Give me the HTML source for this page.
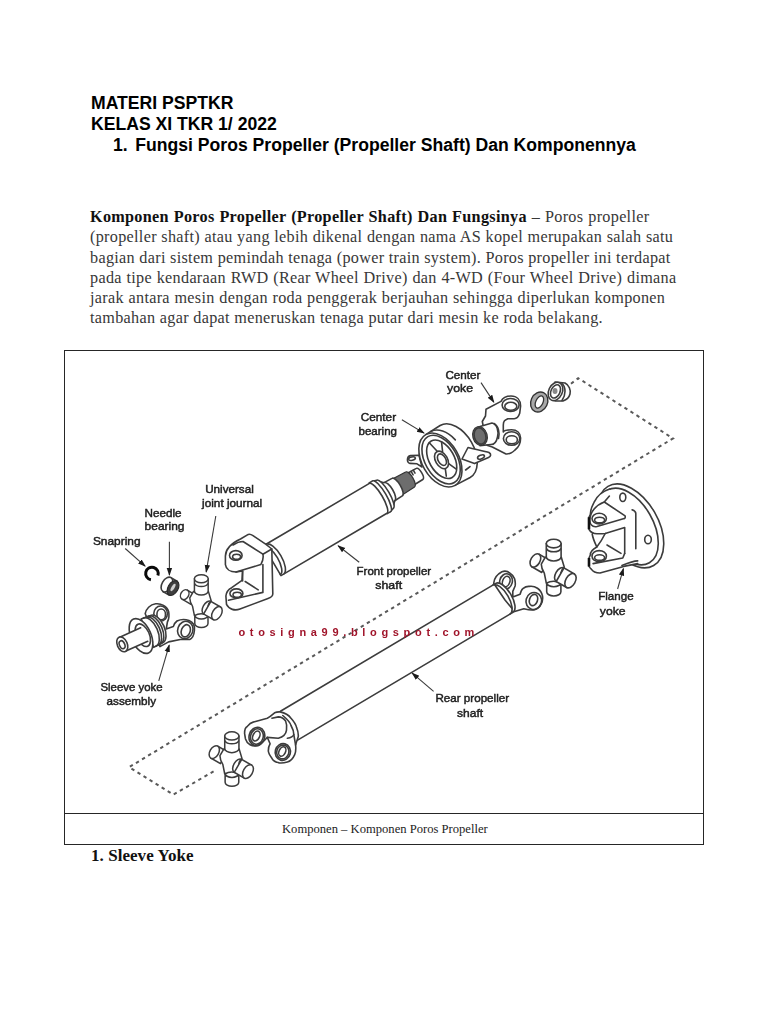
<!DOCTYPE html>
<html><head><meta charset="utf-8">
<style>
html,body{margin:0;padding:0;background:#fff;}
body{width:768px;height:1024px;position:relative;overflow:hidden;}
.h{position:absolute;font-family:"Liberation Sans",sans-serif;font-weight:bold;font-size:17.6px;color:#000;white-space:nowrap;line-height:20px;}
.p{position:absolute;left:90px;font-family:"Liberation Serif",serif;font-size:16.2px;letter-spacing:0.3px;color:#383838;white-space:nowrap;line-height:20px;}
.p b{color:#111;}
#box{position:absolute;left:64px;top:350px;width:640px;height:495px;border:1px solid #262626;box-sizing:border-box;}
#div{position:absolute;left:64px;top:813px;width:640px;height:1px;background:#262626;}
.cap{position:absolute;font-family:"Liberation Serif",serif;font-size:12.6px;color:#222;white-space:nowrap;}
.s{position:absolute;left:91px;font-family:"Liberation Serif",serif;font-weight:bold;font-size:17px;letter-spacing:0.05px;color:#111;white-space:nowrap;}
svg{position:absolute;left:0;top:0;filter:blur(0.35px);}
</style></head><body>
<div class="h" style="left:91px;top:93px;">MATERI PSPTKR</div>
<div class="h" style="left:91px;top:114px;">KELAS XI TKR 1/ 2022</div>
<div class="h" style="left:113px;top:135px;">1.</div>
<div class="h" style="left:135.3px;top:135px;">Fungsi Poros Propeller (Propeller Shaft) Dan Komponennya</div>

<div class="p" style="top:207.40px;word-spacing:0.55px;"><b>Komponen Poros Propeller (Propeller Shaft) Dan Fungsinya</b> – Poros propeller</div>
<div class="p" style="top:227.46px;word-spacing:0.15px;">(propeller shaft) atau yang lebih dikenal dengan nama AS kopel merupakan salah satu</div>
<div class="p" style="top:247.52px;word-spacing:0.04px;">bagian dari sistem pemindah tenaga (power train system). Poros propeller ini terdapat</div>
<div class="p" style="top:267.58px;word-spacing:0.4px;">pada tipe kendaraan RWD (Rear Wheel Drive) dan 4-WD (Four Wheel Drive) dimana</div>
<div class="p" style="top:287.64px;word-spacing:0.3px;">jarak antara mesin dengan roda penggerak berjauhan sehingga diperlukan komponen</div>
<div class="p" style="top:307.70px;word-spacing:0.1px;">tambahan agar dapat meneruskan tenaga putar dari mesin ke roda belakang.</div>

<svg width="768" height="1024" viewBox="0 0 768 1024">
<defs>
<style>
.l{fill:none;stroke:#3c3c3c;stroke-width:1.6;stroke-linejoin:round;stroke-linecap:round}
.f{fill:#fff;stroke:#3c3c3c;stroke-width:1.6;stroke-linejoin:round;stroke-linecap:round}
.d{fill:#6d6d6d;stroke:#333;stroke-width:1.2}
.t{font-family:"Liberation Sans",sans-serif;font-size:10.8px;fill:#1e1e1e;stroke:#1e1e1e;stroke-width:0.45}
.a{fill:#222;stroke:none}
</style>
<g id="uj">
 <!-- left cap -->
 <g transform="rotate(30)">
  <path class="f" d="M-19.5,-7.2 L-8,-7.2 L-8,7.2 L-19.5,7.2 Z"/>
  <ellipse class="f" cx="-19.5" cy="0" rx="4.6" ry="7.2"/>
 </g>
 <!-- hub -->
 <path class="f" d="M-7,-13 Q1,-8 9,-13 L12,-3 Q6,2 11,9 L9,13 Q1,9 -6,13 L-8,3 Q-11,-2 -11,-6 Z"/>
 <!-- top cap -->
 <path class="f" d="M-6,-26.6 L-6,-13.5 A7.4,4.3 0 0 0 8.8,-13.5 L8.8,-26.6 Z"/>
 <ellipse class="f" cx="1.4" cy="-26.6" rx="7.4" ry="4.3"/>
 <path class="l" d="M-5.6,-21.3 A7.2,3.8 0 0 0 8.4,-21.3"/>
 <!-- bottom cap -->
 <path class="f" d="M-5.6,12.5 A7,4 0 0 0 8.6,12.5 L8.6,21.5 A7.1,4.3 0 0 1 -5.6,21.5 Z"/>
 <!-- right cap -->
 <g transform="rotate(30)">
  <path class="f" d="M9,-7.8 L21,-7.8 L21,7.8 L9,7.8 Z"/>
  <path class="l" d="M9,-7.8 A4.6,7.8 0 0 0 9,7.8"/>
  <ellipse class="f" cx="21" cy="0" rx="4.8" ry="7.8"/>
 </g>
</g>
<g id="uj1">
 <!-- left cap -->
 <g transform="rotate(30)">
  <path class="f" d="M-19,-5.6 L-8,-5.6 L-8,5.6 L-19,5.6 Z"/>
  <ellipse class="f" cx="-19" cy="0" rx="4.2" ry="5.6"/>
 </g>
 <!-- hub -->
 <path class="f" d="M-7,-13 Q1,-8 9,-13 L12,-3 Q6,2 11,9 L9,13 Q1,9 -6,13 L-8,3 Q-11,-2 -11,-6 Z"/>
 <!-- top cap -->
 <path class="f" d="M-6,-26.6 L-6,-13.5 A7.4,4.3 0 0 0 8.8,-13.5 L8.8,-26.6 Z"/>
 <ellipse class="f" cx="1.4" cy="-26.6" rx="7.4" ry="4.3"/>
 <path class="l" d="M-5.6,-21.3 A7.2,3.8 0 0 0 8.4,-21.3"/>
 <!-- bottom cap -->
 <path class="f" d="M-5.6,12.5 A7,4 0 0 0 8.6,12.5 L8.6,21.5 A7.1,4.3 0 0 1 -5.6,21.5 Z"/>
 <!-- right cap -->
 <g transform="rotate(30)">
  <path class="f" d="M9,-7.8 L21,-7.8 L21,7.8 L9,7.8 Z"/>
  <path class="l" d="M9,-7.8 A4.6,7.8 0 0 0 9,7.8"/>
  <ellipse class="f" cx="21" cy="0" rx="4.8" ry="7.8"/>
 </g>
</g>
<marker id="ah" markerWidth="8" markerHeight="8" refX="7" refY="4" orient="auto" markerUnits="userSpaceOnUse"><path d="M0,1.3 L8,4 L0,6.7 Z" fill="#1a1a1a"/></marker>
</defs>

<!-- dashed loop -->
<path d="M571,383.7 L578.2,378.2 L673,438.4 L129.1,767.2 L173.4,794.6 L216,770" fill="none" stroke="#595959" stroke-width="2" stroke-dasharray="3.4 3.7"/>

<!-- ============ FRONT SHAFT ============ -->
<g transform="translate(274.8,559.2) rotate(-30.5)">
 <path class="f" d="M157,-6.7 L168,-6.4 A2.4,6.4 0 0 1 168,6.4 L157,6.7 Z"/>
 <path class="l" d="M159.5,-6.5 L159.5,-2.5 M162,-6.5 L162,-2.5 M164.5,-6.4 L164.5,-3" stroke-width="0.8"/>
 <path class="d" d="M142,-9.4 L157,-8.8 A3.2,8.8 0 0 1 157,8.8 L142,9.4 Z"/>
 <path class="f" d="M133,-10.5 L142,-10.2 A3.6,10.2 0 0 1 142,10.2 L133,10.5 Z"/>
 <path class="f" d="M127.5,-16 L133,-10.5 A3.8,10.5 0 0 1 133,10.5 L127.5,16 Z"/>
 <path class="f" d="M123.8,-17.6 L127.8,-16.4 A4.5,16.4 0 0 1 127.8,16.4 L123.8,17.6 Z"/>
 <path class="f" d="M120,-17.8 L124,-17.8 A4.6,17.8 0 0 1 124,17.8 L120,17.8 Z"/>
 <path fill="#fff" d="M0,-17.3 L120,-17.3 A4.5,17.3 0 0 1 120,17.3 L0,17.3 Z"/>
 <path class="l" d="M0,-17.3 L120,-17.3 A4.5,17.3 0 0 1 120,17.3 L0,17.3"/>
 <path class="f" d="M-3,-17.3 L0,-17.3 A7,17.3 0 0 1 0,17.3 L-3,17.3 Z"/>
 <path class="l" d="M-3,-16 A6,16 0 0 1 -3,16"/>
</g>
<!-- front yoke -->
<path class="f" d="M225.4,556 C225.5,549 232,543 240.5,539 L248.3,534.4 C250,533.8 251.5,534.6 253,535.6 L266,544.3 L271.8,549 L272.8,594 C272.6,596.5 271,597.5 268,598.5 L240,609 C235,611 229,609.5 226.5,604.4 L225.9,596 C226.5,591 229,589 231.7,587.7 L242,580.4 L242.6,571 L236,572 C230,572 226,569 225.4,564.6 Z"/>
<path class="l" d="M233,545 C236,543 240,541.5 243,541.5 L262.9,554.2 L271.8,549"/>
<path class="l" d="M262.9,554.2 C263.5,557 263,561 260.8,564.6 L236,572"/>
<path class="l" d="M262.9,564.6 L262.9,592.4 L228.5,600.2"/>
<path class="l" d="M245.2,581.5 L258.2,589.8"/>
<path class="l" d="M242.6,571 L242.6,581"/>
<ellipse class="f" cx="235.8" cy="555.4" rx="6.3" ry="4.8"/>
<ellipse class="l" cx="236.6" cy="556.8" rx="4" ry="2.6"/>
<ellipse class="f" cx="236.4" cy="593.4" rx="6.5" ry="4.5"/>
<ellipse class="l" cx="237.2" cy="594.8" rx="4.2" ry="2.6"/>

<!-- ============ CENTER BEARING ============ -->
<g transform="translate(440.4,460) rotate(-30)">
 <path class="f" d="M0,-29.3 L17,-30 A18.8,30 0 0 1 17,30 L0,29.3 Z"/>
 <path class="l" d="M6,-29.5 A18.5,29.5 0 0 1 23,-10"/>
</g>
<!-- bracket tabs -->
<path class="f" d="M419,455.2 L410.5,455.6 C406.5,456.5 406.5,462.5 410,463.4 L417,463.8 L422,467 Z"/>
<ellipse class="l" cx="412" cy="458.6" rx="3.4" ry="1.7" transform="rotate(-12 412 458.6)"/>
<path class="f" d="M468,447.5 C476,449.5 485,451 489,452.5 C491.5,454 491,456.5 488.5,457.5 L474.5,463.6 L462,459 Z"/>
<ellipse class="l" cx="481" cy="457" rx="3.6" ry="1.8" transform="rotate(-22 481 457)"/>
<path class="l" d="M470,466.6 L465.6,470"/>
<g transform="translate(440.4,460) rotate(-30)">
 <ellipse class="f" cx="0" cy="0" rx="18.3" ry="29.3"/>
 <ellipse class="l" cx="0.8" cy="0" rx="16" ry="26.5"/>
 <ellipse class="l" cx="1.5" cy="0" rx="12.5" ry="21"/>
 <path class="l" d="M-1,-20.5 L1.5,-9.5 M-3,17 L0.5,8.5 M10,-15 L6,-6 M9,15.5 L5,6.5" stroke-width="1.1"/>
 <ellipse class="f" cx="1" cy="0.5" rx="6" ry="9.5"/>
 <ellipse class="l" cx="1.5" cy="0.5" rx="3.8" ry="6.3"/>
</g>

<!-- ============ CENTER YOKE ============ -->
<path class="f" d="M501,401.4 C503,397 507,396 511,396 C517,396 520.6,400 520.6,406 L519.7,413.3 C518.5,417 516,418.7 514.2,418.7 L507.8,418.7 C505,420 503.3,421 503.3,425 L503.3,432 C504,430 507,429.7 511.5,429.7 C517,429.7 520.6,433 520.6,438 C520.6,443 519,447 515,450 C512,453 509,454.3 506,454 L492.3,447 L487,445.2 L482.3,421.5 L485.5,416 L486,409.2 Z"/>
<ellipse class="f" cx="510.6" cy="405" rx="8.5" ry="6.5"/>
<ellipse class="l" cx="510.8" cy="406.3" rx="6" ry="4"/>
<ellipse class="f" cx="511.6" cy="438.5" rx="8.2" ry="6.8"/>
<ellipse class="l" cx="511.8" cy="439.8" rx="5.6" ry="4"/>
<!-- boss -->
<path class="f" d="M480,426.4 L492,423 C497,424 499,431 497.5,437 C496.5,442 494,444.5 491,444.5 L480,445.6 Z"/>
<path class="l" d="M494,423.5 C498.5,426 500,433 498.5,438.5"/>
<ellipse class="d" cx="480" cy="436" rx="7.2" ry="9.6" transform="rotate(-15 480 436)" fill="#7a7a7a"/>
<ellipse class="l" cx="480" cy="436" rx="5.8" ry="8.2" transform="rotate(-15 480 436)"/>

<!-- washer & nut -->
<ellipse cx="539.2" cy="402" rx="8.3" ry="10.3" transform="rotate(25 539.2 402)" fill="#a8a8a8" stroke="#333" stroke-width="1.4"/>
<ellipse cx="539.4" cy="402" rx="3.6" ry="6.5" transform="rotate(25 539.4 402)" fill="#fff" stroke="#333" stroke-width="1.3"/>
<path class="f" d="M555,382 L565,383 C569,385 571,390 570,394 C569,398 566,400 563,401 L555,401 Z"/>
<ellipse class="f" cx="555.5" cy="391.4" rx="6.8" ry="9.6" transform="rotate(25 555.5 391.4)"/>
<ellipse class="l" cx="555.5" cy="391.4" rx="4.5" ry="7" transform="rotate(25 555.5 391.4)"/>
<ellipse cx="555" cy="391" rx="2.5" ry="3" fill="#888"/>
<path class="l" d="M562,383.5 C566,387 566,395 562,400.5" />

<!-- ============ SLEEVE YOKE ============ -->
<path class="f" d="M145.2,613.75 C146,609 150,604.5 155.7,603.8 C161,603.2 167,606 168.6,611.4 C169.5,616 168.5,620 167.4,622 L166.25,629 L173.3,626.6 C174,624 175,622.5 177,621 C180,619.5 185,619 189,620.5 C193,622 195,626 194.4,630.5 C194,635 192,638.5 189.7,639.5 L180.3,639.5 L168.6,641.9 L160,646.6 Z"/>
<ellipse class="f" cx="160.6" cy="613.6" rx="6.8" ry="7.6"/>
<ellipse class="l" cx="161.2" cy="614.4" rx="4.3" ry="5.4"/>
<ellipse class="f" cx="185.3" cy="630" rx="7.6" ry="8.8" transform="rotate(20 185.3 630)"/>
<ellipse class="l" cx="185.8" cy="630.8" rx="4.4" ry="6.3" transform="rotate(20 185.8 630.8)"/>
<g transform="translate(141,636) rotate(-24)">
 <path class="f" d="M7,-15.5 L17,-15 A8,15 0 0 1 17,15 L7,15.5 Z"/>
 <path class="l" d="M9.5,-15.4 A8,15.3 0 0 1 9.5,15.4 M12,-15.3 A8,15.2 0 0 1 12,15.3 M14.5,-15.2 A8,15.1 0 0 1 14.5,15.2"/>
 <ellipse class="f" cx="0" cy="0" rx="10" ry="18.5"/>
 <ellipse class="l" cx="2" cy="0" rx="6.5" ry="12"/>
 <path fill="#fff" d="M-20.5,-7.6 L4,-7.6 L4,7.6 L-20.5,7.6 Z"/>
 <path class="l" d="M-20.5,-7.6 L3,-7.6 M-20.5,7.6 L4,7.6"/>
 <ellipse class="f" cx="-20.5" cy="0" rx="5" ry="7.8"/>
 <ellipse class="l" cx="-20.8" cy="0.3" rx="2.6" ry="4.2"/>
</g>

<!-- snapring, needle bearing -->
<path d="M157.9,575.6 A6.3,6.3 0 1 0 150.9,579.7" fill="none" stroke="#0a0a0a" stroke-width="3"/>
<g transform="translate(170,586.3) rotate(30)">
 <path class="f" d="M-3.5,-8 L3.5,-8 L3.5,8 L-3.5,8 Z"/>
 <ellipse class="f" cx="-3.5" cy="0" rx="5" ry="8"/>
 <ellipse cx="3.5" cy="0" rx="5" ry="8" fill="#3e3e3e" stroke="#2a2a2a" stroke-width="1.2"/>
 <ellipse cx="3.2" cy="-0.5" rx="1.6" ry="4.2" fill="#cfcfcf"/>
</g>
<!-- UJs -->
<use href="#uj1" transform="translate(200,603.5) scale(0.93)"/>
<use href="#uj" transform="translate(552.3,570.2)"/>
<use href="#uj" transform="translate(230.5,761.5) scale(0.96)"/>

<!-- ============ REAR SHAFT ============ -->
<g transform="translate(291.6,724.2) rotate(-30.7)">
 <path fill="#fff" d="M-3,-16.8 L244,-16.8 L244,16.8 L-3,16.8 Z"/>
 <path class="l" d="M-3,-16.8 L244,-16.8 M-3,16.8 L244,16.8"/>
</g>
<!-- rear right yoke -->
<path class="f" d="M493.7,583.2 C494,580 496,575 501.9,571.8 C505,570.5 508,571.5 510,573.2 C513,575 514.6,578.7 514.6,578.7 C515.5,582 515.5,584 515.1,586 L512.8,591.4 L512.8,596.9 L520.1,594.2 C521,591 521.5,589.5 522.8,588.7 C525,587 527,586.2 529.2,586.4 C535,585.5 541,589 542.5,596 C543.5,602 540,608 534.7,609.7 C530,610.5 527,609.5 523.8,608.75 L514.6,611.5 L505,600 Z"/>
<ellipse class="l" cx="506" cy="581.5" rx="6.3" ry="7.8" transform="rotate(15 506 581.5)"/>
<ellipse class="l" cx="506.2" cy="581.5" rx="3.6" ry="5.4" transform="rotate(20 506.2 581.5)"/>
<ellipse class="l" cx="533.8" cy="601" rx="7.8" ry="8.6" transform="rotate(15 533.8 601)"/>
<ellipse class="l" cx="533.5" cy="600" rx="4" ry="5.8" transform="rotate(20 533.5 600)"/>
<g transform="translate(291.6,724.2) rotate(-30.7)">
 <path class="f" d="M244,-16.8 L247.5,-16.8 A7.3,16.8 0 0 1 247.5,16.8 L244,16.8 A7.5,16.8 0 0 0 244,-16.8 Z"/>
</g>
<!-- rear left yoke -->
<path class="f" d="M244.6,733.7 C244.5,729 246,727 247.3,726.4 C249,724 251,722.5 253.7,721.9 L267.3,718.2 C270,717 272.5,714.5 274.6,712.8 C276.5,712 278.5,711.7 280.1,711.9 C285,713 289,715.5 291,718.2 C294,721.5 296,725 296.5,727.3 C298,731 298.5,734 298.3,736.5 L296.5,741.9 L295.6,745 C296,749 296,752 294.7,754.7 C293,758.5 290,761.5 287.4,762 C284,763 281,763.2 279.2,762.9 C275,762 273,760.5 271.9,758.3 C269.5,755 268.5,753 268.3,751 C268.3,748 269,745.5 270.1,743.75 L267.3,737.4 C264,741 262,743.5 258,745.5 C252,747 247,744 245.5,739 Z"/>
<path class="l" d="M267.3,737.4 L278.3,738.3 C283,737 286,734 286.5,730.1 C287,726 286.5,723 285.6,721 C283.5,718 281,717 278.3,716.9 L271.9,718.2"/>
<path class="l" d="M282.8,715.5 C287,719 290,722 291,725.5 C293,729 293.8,732 293.8,734.6 C293,737 290,738 287.4,738.3"/>
<path class="l" d="M293.8,734.6 L295.6,745"/>
<ellipse class="l" cx="256.9" cy="736.5" rx="7.8" ry="9.3" transform="rotate(15 256.9 736.5)"/>
<ellipse class="l" cx="256.9" cy="736.5" rx="6.3" ry="7.8" transform="rotate(15 256.9 736.5)"/>
<ellipse class="l" cx="256.3" cy="736" rx="3.3" ry="5.3" transform="rotate(25 256.3 736)"/>
<ellipse class="l" cx="282.8" cy="752" rx="7.6" ry="8.4" transform="rotate(15 282.8 752)"/>
<ellipse class="l" cx="282.8" cy="752" rx="6.1" ry="6.9" transform="rotate(15 282.8 752)"/>
<ellipse class="l" cx="282.3" cy="751.5" rx="3.2" ry="5" transform="rotate(25 282.3 751.5)"/>

<!-- ============ FLANGE YOKE ============ -->
<ellipse class="f" cx="630.8" cy="525.9" rx="27.4" ry="45.7" transform="rotate(-30 630.8 525.9)"/>
<ellipse class="l" cx="628.5" cy="526.5" rx="24.5" ry="41.8" transform="rotate(-30 628.5 526.5)"/>
<path fill="#fff" stroke="none" d="M609.8,489 C603,491 597,496 594,502.4 C591.5,507 590.3,511 590.3,514.5 L589,517.25 L589,529.3 C590,531.5 591.3,532.1 593,533 L592.2,534 C593,539 595,543 596.8,547 C593,549 590.3,551 590.3,555 L589,558 L589,566.4 C590,568 591.3,569.2 591.3,569.2 C593,572 596,573 600,573 L623.7,566.4 L637.7,563.6 L637,548 L625,515 Z"/>
<path class="l" d="M609.8,489 C603,491 597,496 594,502.4 C591.5,507 590.3,511 590.3,514.5 L589,517.25 L589,529.3 C590,531.5 591.3,532.1 593,533 M592.2,534 C593,539 595,543 596.8,547 C593,549 590.3,551 590.3,555 L589,558 L589,566.4 C590,568 591.3,569.2 591.3,569.2 C593,572 596,573 600,573 L623.7,566.4 L637.7,563.6"/>
<path class="l" d="M604.3,502 L625.1,515.9 C625.5,517.5 625,518.5 624.2,518.6 L597,526.5 C592,527.5 589.5,524 589.8,519.5 C590.3,512 596,505 604.3,502 Z"/>
<path class="l" d="M604.3,502 L609.4,496"/>
<path class="l" d="M591.3,532.1 C594,534 600,534 605.2,533.5 L624.7,527.5 L624.7,553.4"/>
<path class="l" d="M605.2,533.5 C603,538 600,543 596.8,547"/>
<path class="l" d="M607,545 L621,553.4"/>
<path class="l" d="M593.1,563.6 L622.8,558 L624.7,553.4"/>
<path class="l" d="M621.9,565.5 C628,563 633,561 637.7,560.9"/>
<path d="M589,517.25 L589,529.3 M589,558 L589,566.4" stroke="#111" stroke-width="2.6" fill="none"/>
<ellipse class="f" cx="599.2" cy="518.6" rx="7.2" ry="5.3"/>
<ellipse class="l" cx="599.6" cy="520" rx="5" ry="2.8"/>
<ellipse class="f" cx="599.2" cy="556.2" rx="7.2" ry="5.6"/>
<ellipse class="l" cx="599.6" cy="557.6" rx="5" ry="2.8"/>
<path class="l" d="M632.1,509.8 C634,510.5 635.8,512 635.8,513.5 L635.8,548.8"/>
<ellipse class="l" cx="622.8" cy="497.3" rx="3" ry="4.2"/>
<ellipse class="l" cx="648" cy="539.5" rx="3.3" ry="4.3"/>

<!-- labels -->
<text class="t" x="445.4" y="378.9" textLength="35.0" lengthAdjust="spacingAndGlyphs">Center</text>
<text class="t" x="447.1" y="392.4" textLength="26.0" lengthAdjust="spacingAndGlyphs">yoke</text>
<text class="t" x="360.7" y="420.9" textLength="35.4" lengthAdjust="spacingAndGlyphs">Center</text>
<text class="t" x="358.5" y="434.7" textLength="38.5" lengthAdjust="spacingAndGlyphs">bearing</text>
<text class="t" x="205.2" y="493.2" textLength="48.6" lengthAdjust="spacingAndGlyphs">Universal</text>
<text class="t" x="202.1" y="506.8" textLength="60.1" lengthAdjust="spacingAndGlyphs">joint journal</text>
<text class="t" x="144.6" y="517.4" textLength="37.0" lengthAdjust="spacingAndGlyphs">Needle</text>
<text class="t" x="144.6" y="530.4" textLength="39.9" lengthAdjust="spacingAndGlyphs">bearing</text>
<text class="t" x="92.9" y="544.7" textLength="47.7" lengthAdjust="spacingAndGlyphs">Snapring</text>
<text class="t" x="356.6" y="575.2" textLength="74.5" lengthAdjust="spacingAndGlyphs">Front propeller</text>
<text class="t" x="375.3" y="589.3" textLength="26.8" lengthAdjust="spacingAndGlyphs">shaft</text>
<text class="t" x="598.2" y="599.6" textLength="35.4" lengthAdjust="spacingAndGlyphs">Flange</text>
<text class="t" x="599.8" y="614.6" textLength="25.7" lengthAdjust="spacingAndGlyphs">yoke</text>
<text class="t" x="100.4" y="691.1" textLength="62.3" lengthAdjust="spacingAndGlyphs">Sleeve yoke</text>
<text class="t" x="106.5" y="705.3" textLength="49.5" lengthAdjust="spacingAndGlyphs">assembly</text>
<text class="t" x="435.4" y="702.2" textLength="73.7" lengthAdjust="spacingAndGlyphs">Rear propeller</text>
<text class="t" x="457.0" y="717.0" textLength="26.1" lengthAdjust="spacingAndGlyphs">shaft</text>
<text x="238.4" y="636.3" textLength="236" lengthAdjust="spacing" font-family="Liberation Sans,sans-serif" font-weight="bold" font-size="11px" fill="#a0142a">otosigna99.blogspot.com</text>

<!-- arrows -->
<g stroke="#3a3a3a" stroke-width="1.1" fill="none" marker-end="url(#ah)">
<path d="M481.0,382.6 L493.8,402.1"/>
<path d="M401.9,419.8 L424.0,433.1"/>
<path d="M215.8,516.0 L206.2,571.9"/>
<path d="M169.4,541.7 L169.4,575.0"/>
<path d="M125.2,548.5 L145.1,566.2"/>
<path d="M359.2,562.3 L338.2,545.8"/>
<path d="M617.6,589.0 L623.4,568.6"/>
<path d="M158.75,680.8 L169.2,645.1"/>
<path d="M433.6,691.4 L412.2,673.2"/>
</g>
</svg>

<div id="box"></div>
<div id="div"></div>
<div class="cap" style="left:282px;top:822px;">Komponen – Komponen Poros Propeller</div>
<div class="s" style="top:846px;">1. Sleeve Yoke</div>

</body></html>
